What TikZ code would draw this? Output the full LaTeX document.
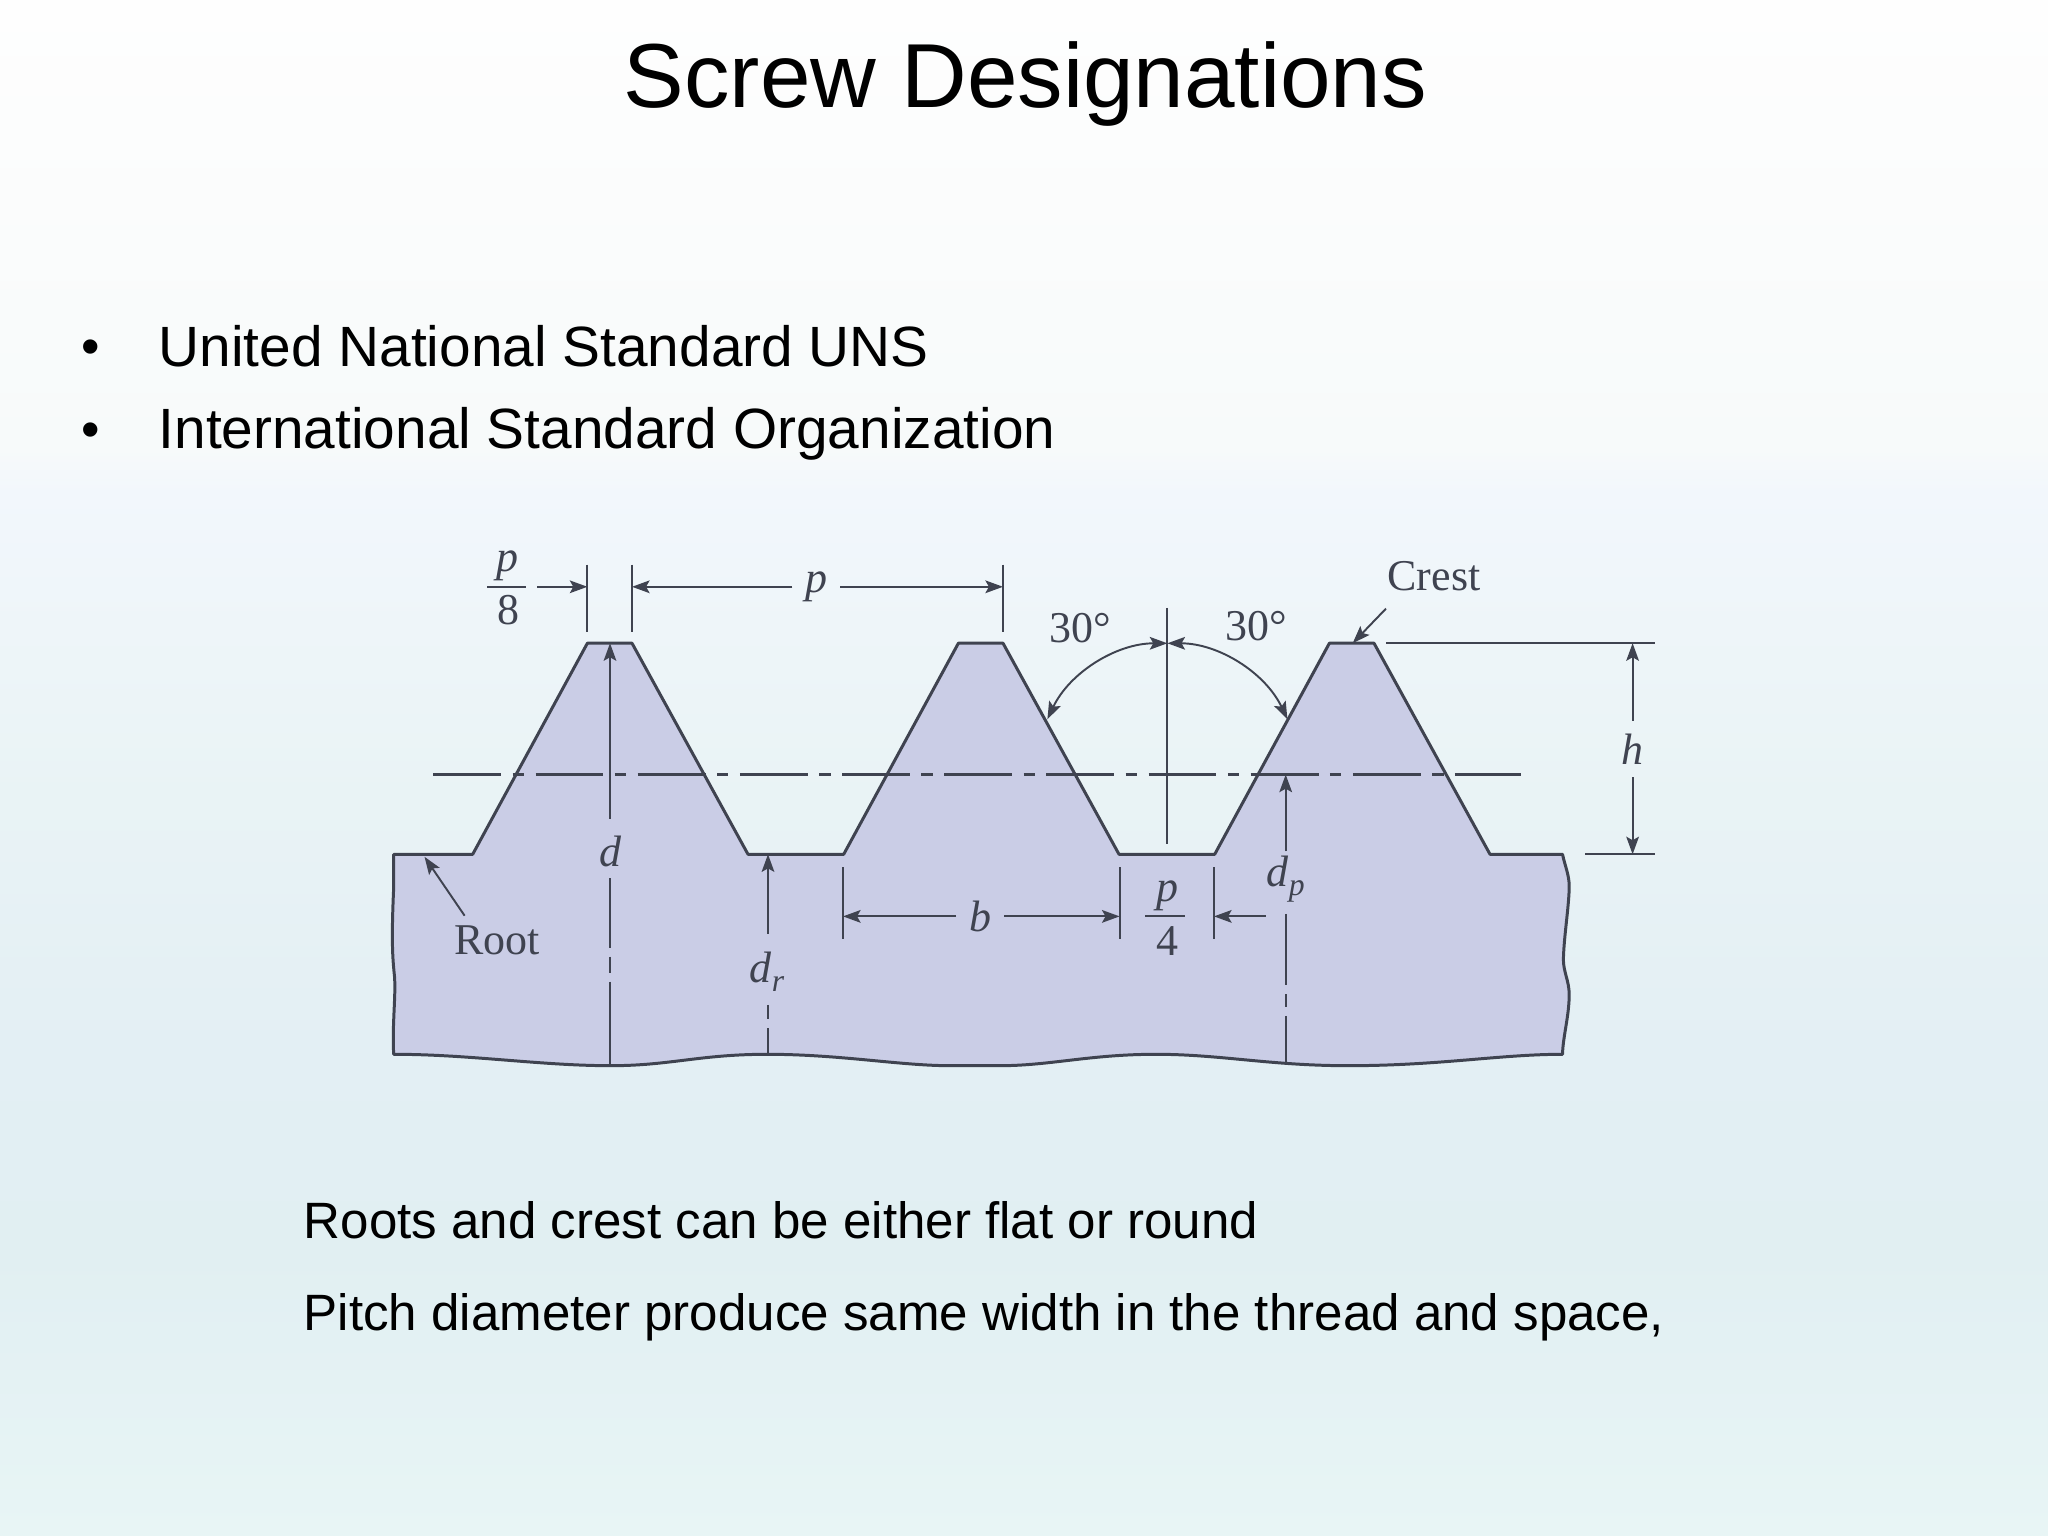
\documentclass[tikz,border=0pt]{standalone}
\usepackage{fontspec}
\usetikzlibrary{arrows.meta,positioning}
\setmainfont{Liberation Sans}
\newfontfamily\figfont{Liberation Serif}
\definecolor{bgTop}{HTML}{FEFEFE}
\definecolor{bgA}{HTML}{F7FAFA}
\definecolor{bgB}{HTML}{F2F7FC}
\definecolor{bgC}{HTML}{E9F3F5}
\definecolor{bgD}{HTML}{E3EFF4}
\definecolor{bgE}{HTML}{E1EFF2}
\definecolor{bgF}{HTML}{E8F5F5}
\definecolor{threadfill}{HTML}{CACDE6}
\definecolor{inkline}{HTML}{3F4350}
\pgfdeclareverticalshading{slidebg}{100bp}{color(0bp)=(bgF); color(25bp)=(bgF); color(34.3bp)=(bgE); color(40.8bp)=(bgD); color(49bp)=(bgC); color(59bp)=(bgB); color(60.4bp)=(bgA); color(75bp)=(bgTop); color(100bp)=(bgTop)}
\tikzset{
	dim/.style={inkline, line width=0.55pt},
	label/.style={inkline, font=\figfont\fontsize{12.5}{15}\selectfont, inner sep=0pt},
	mathlabel/.style={inkline, font=\figfont\itshape\fontsize{12.5}{15}\selectfont, inner sep=3.5pt},
	slidetitle/.style={font=\fontsize{25.85}{30}\selectfont, anchor=base west, inner sep=0pt},
	bigtext/.style={font=\fontsize{16.15}{20}\selectfont, anchor=base west, inner sep=0pt},
	smalltext/.style={font=\fontsize{14.53}{18}\selectfont, anchor=base west, inner sep=0pt},
}
\newcommand{\subletter}[1]{\raisebox{-2.5pt}{\fontsize{9}{9}\selectfont #1}}
\begin{document}
\begin{tikzpicture}[x=0.01cm, y=0.01cm, line join=round, >={Stealth[length=5pt,width=3.6pt,inset=1pt]}]
	% Background of the slide
	\shade[shading=slidebg] (0,0) rectangle (2048,1536);
	\useasboundingbox (0,0) rectangle (2048,1536);
	% Heights of the thread
	\def\yCrest{892.8}
	\def\yRoot{681.7}
	\def\yPitch{761.4}
	\def\yDim{619.6}
	\def\yTopDim{949.2}
	\def\pitchStep{371}
	% Thread profile
	\draw[inkline, line width=0.85pt, fill=threadfill] (393.7,\yRoot)
		\foreach \i in {0,1,2} {
			-- ({472.7+\pitchStep*\i},\yRoot) -- ({587.4+\pitchStep*\i},\yCrest)
			-- ({632+\pitchStep*\i},\yCrest) -- ({748+\pitchStep*\i},\yRoot)
		}
		-- (1562.5,\yRoot)
		.. controls (1565,670) and (1569.5,660) .. (1569.2,648.9)
		.. controls (1569,630) and (1564,600) .. (1563.4,577.4)
		.. controls (1563,565) and (1569.2,555) .. (1569.2,541.7)
		.. controls (1569.2,520) and (1563,500) .. (1562.5,481.7)
		.. controls (1500,481.7) and (1440,470.3) .. (1348,470.3)
		.. controls (1270,470.3) and (1220,481.7) .. (1156,481.7)
		.. controls (1090,481.7) and (1050,470.3) .. (1000,470.3)
		-- (950,470.3)
		.. controls (900,470.3) and (840,481.7) .. (767,481.7)
		.. controls (700,481.7) and (670,470.3) .. (611,470.3)
		.. controls (540,470.3) and (470,481.7) .. (393.7,481.7)
		.. controls (392,510) and (396,540) .. (394.5,559.6)
		.. controls (393,575) and (391,590) .. (393.7,648.9)
		-- cycle;
	% Pitch line
	\draw[dim, line width=0.65pt, dash pattern=on 19.3pt off 3.25pt on 3.25pt off 3.25pt] (433.4,\yPitch) -- (1521.4,\yPitch);
	% Extension lines above the crests
	\draw[dim] (587.4,971.4) -- (587.4,904.2);
	\draw[dim] (632,971.4) -- (632,904.2);
	\draw[dim] (1003,971.4) -- (1003,904.2);
	% p/8 and p
	\node[mathlabel, inner sep=0pt] (pEightTop) at (507,970.3) {p};
	\node[label] (pEightBot) at (508,925.5) {8};
	\draw[dim] (487,\yTopDim) -- (526,\yTopDim);
	\draw[dim, ->] (537.4,\yTopDim) -- (587.4,\yTopDim);
	\node[mathlabel] (pLabel) at (816.4,\yTopDim) {p};
	\draw[dim, ->] (pLabel) -- (632,\yTopDim);
	\draw[dim, ->] (pLabel) -- (1003,\yTopDim);
	% d
	\node[mathlabel, inner ysep=4.5pt] (dLabel) at (610,685) {d};
	\draw[dim, ->] (dLabel) -- (610,\yCrest);
	\draw[dim, dash pattern=on 19.8pt off 2.5pt on 4.6pt off 2.5pt on 40pt off 0pt] (610,657.8) -- (610,470.3);
	% d_r
	\node[mathlabel] (drLabel) at (767,564) {d\subletter{r}};
	\draw[dim, ->] (768,602.4) -- (768,\yRoot);
	\draw[dim, dash pattern=on 4.07pt off 2.5pt on 9pt off 0pt] (768,531) -- (768,481.7);
	% d_p
	\node[mathlabel] (dpLabel) at (1285.7,657) {d\subletter{p}};
	\draw[dim, ->] (1285.7,684.6) -- (1285.7,\yPitch);
	\draw[dim, dash pattern=on 20.3pt off 2.55pt on 3.56pt off 2.55pt on 20pt off 0pt] (1285.7,622) -- (1285.7,473.9);
	% b and p/4
	\draw[dim] (843,668.5) -- (843,597.1);
	\draw[dim] (1119.6,668.5) -- (1119.6,597.1);
	\draw[dim] (1214,668.5) -- (1214,597.1);
	\node[mathlabel] (bLabel) at (980,\yDim) {b};
	\draw[dim, ->] (bLabel) -- (843,\yDim);
	\draw[dim, ->] (bLabel) -- (1119.6,\yDim);
	\node[mathlabel, inner sep=0pt] (pFourTop) at (1167.4,640) {p};
	\node[label] (pFourBot) at (1167.4,595) {4};
	\draw[dim] (1145,\yDim) -- (1185,\yDim);
	\draw[dim, ->] (1265.6,\yDim) -- (1214,\yDim);
	% Center line and 30 degree arcs
	\def\Rarc{132.7}
	\draw[dim] (1167.4,928.1) -- (1167.4,692.4);
	\draw[dim, <->] (1047.4,816.7) arc[start angle=154.7, end angle=90, radius=\Rarc];
	\draw[dim, <->] (1287.4,816.7) arc[start angle=25.3, end angle=90, radius=\Rarc];
	\node[label] (angleLeft) at (1080.5,907.8) {30°};
	\node[label] (angleRight) at (1256.7,910.3) {30°};
	% Root and Crest
	\node[label] (rootLabel) at (497,595.3) {Root};
	\coordinate (rootTail) at (464.6,620.3);
	\coordinate (rootTip) at (424.5,679.2);
	\draw[dim, ->] (rootTail) -- (rootTip);
	\node[label] (crestLabel) at (1434,959.6) {Crest};
	\coordinate (crestTail) at (1386,927.4);
	\coordinate (crestTip) at (1352.7,\yCrest);
	\draw[dim, ->] (crestTail) -- (crestTip);
	% h
	\draw[dim] (1386,\yCrest) -- (1655,\yCrest);
	\draw[dim] (1585,\yRoot) -- (1655,\yRoot);
	\node[mathlabel] (hLabel) at (1632.6,787) {h};
	\draw[dim, ->] (hLabel) -- (1632.6,\yCrest);
	\draw[dim, ->] (hLabel) -- (1632.6,\yRoot);
	% Texts of the slide
	\node[slidetitle] (slideTitle) at (623,1428) {Screw Designations};
	\node[bigtext, font=\fontsize{15}{18}\selectfont] (bulletA) at (81,1171) {•};
	\node[bigtext] (lineA) at (158,1169.5) {United National Standard UNS};
	\node[bigtext, font=\fontsize{15}{18}\selectfont] (bulletB) at (81,1088.5) {•};
	\node[bigtext] (lineB) at (158,1087) {International Standard Organization};
	\node[smalltext] (noteA) at (303,297.5) {Roots and crest can be either flat or round};
	\node[smalltext] (noteB) at (303,205) {Pitch diameter produce same width in the thread and space,};
\end{tikzpicture}
\end{document}
